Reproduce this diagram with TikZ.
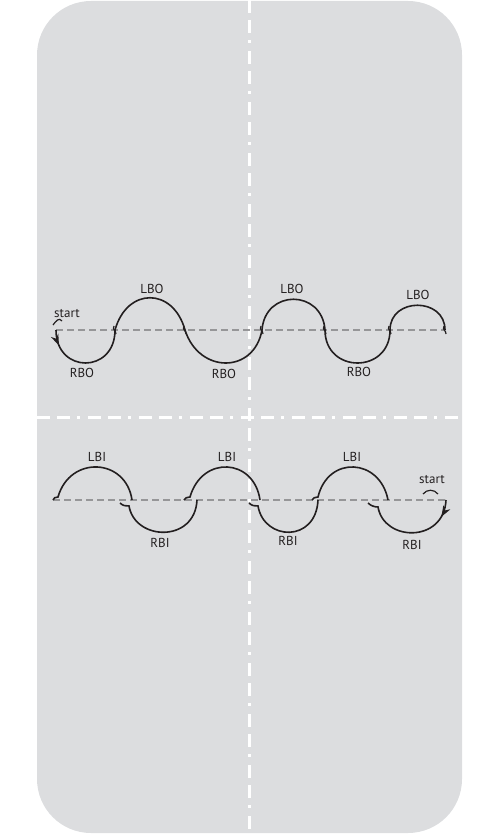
\documentclass[tikz,border=0pt]{standalone}
\usepackage{fontspec}
\setmainfont{PT Sans}
\usetikzlibrary{arrows.meta,decorations.markings}
\definecolor{panel}{RGB}{220,221,223}
\definecolor{ink}{RGB}{35,31,32}
\definecolor{axis}{RGB}{150,150,152}

\begin{document}
\begin{tikzpicture}[x=1pt,y=-1pt]
        \tikzstyle{every node}=[font=\fontsize{13}{15}\selectfont, text=ink, inner sep=0pt]
        \tikzstyle{fold}=[white, line width=3pt, dash pattern=on 13pt off 7pt on 13pt off 7pt on 3pt off 8pt]
        \tikzstyle{base}=[axis, line width=1.3pt, dash pattern=on 7pt off 4pt]
        \tikzstyle{wave}=[ink, line width=1.6pt]
        \tikzstyle{tick}=[ink, line width=1.2pt]
        \tikzstyle{startarrow}=[postaction={decorate}, decoration={markings, mark=at position 0.16 with {\arrow[ink]{Stealth[length=11pt,width=8pt]}}}]

        \useasboundingbox (0,0) rectangle (500,834);
        \fill[panel, rounded corners=54pt] (37,1) rectangle (462,833);
        \draw[fold] (249,0) -- (249,834);
        \draw[fold] (37,417) -- (462,417);

        % outer row
        \coordinate (o0) at (56,330);
        \coordinate (o1) at (115,330);
        \coordinate (o2) at (185,330);
        \coordinate (o3) at (262,330);
        \coordinate (o4) at (325,330);
        \coordinate (o5) at (390,330);
        \coordinate (o6) at (445,330);

        \draw[base] (o0) -- (o6);

        \draw[wave, startarrow] (o0) .. controls +(0,44) and +(0,44) .. (o1);
        \draw[wave] (o1) .. controls +(12,-43) and +(-12,-43) .. (o2);
        \draw[wave] (o2) .. controls +(14,44) and +(-8,44) .. (o3);
        \draw[wave] (o3) .. controls +(3,-41) and +(-3,-41) .. (o4);
        \draw[wave] (o4) .. controls +(0,44) and +(0,44) .. (o5);
        \draw[wave] (o5) .. controls +(0,-33) and +(0,-33) .. (o6);

        \draw[tick] (o1) ++(-1,-4) .. controls +(-2,4) and +(0,-4) .. +(2,8);
        \draw[tick] (o2) ++(-1,-4) .. controls +(-2,4) and +(0,-4) .. +(2,8);
        \draw[tick] (o3) ++(-1,-4) .. controls +(-2,4) and +(0,-4) .. +(2,8);
        \draw[tick] (o4) ++(-1,-4) .. controls +(-2,4) and +(0,-4) .. +(2,8);
        \draw[tick] (o5) ++(-1,-4) .. controls +(-2,4) and +(0,-4) .. +(2,8);
        \draw[tick] (o6) ++(-1,-4) .. controls +(-2,4) and +(0,-4) .. +(2,8);
        \draw[tick] (o0) ++(-3,-5) .. controls +(3,-4) and +(-3,-4) .. +(9,-4);

        \node (start1) at (67,314) {start};
        \node (lbo1)   at (152,289) {LBO};
        \node (lbo2)   at (292,289) {LBO};
        \node (lbo3)   at (418,295) {LBO};
        \node (rbo1)   at (82,373)  {RBO};
        \node (rbo2)   at (224,374) {RBO};
        \node (rbo3)   at (359,372) {RBO};

        % inner row
        \coordinate (g1) at (53,500);
        \coordinate (g2) at (184,500);
        \coordinate (g3) at (312,500);
        \coordinate (l1s) at (58,497);
        \coordinate (l1e) at (132,500);
        \coordinate (l2s) at (190,497);
        \coordinate (l2e) at (260,500);
        \coordinate (l3s) at (318,497);
        \coordinate (l3e) at (388,500);
        \coordinate (h1) at (120,503);
        \coordinate (h2) at (249,503);
        \coordinate (h3) at (368,503);
        \coordinate (k1) at (129,506);
        \coordinate (k2) at (258,506);
        \coordinate (k3) at (378,507);
        \coordinate (r1e) at (197,500);
        \coordinate (r2e) at (318,500);
        \coordinate (r3e) at (446,500);

        \draw[base] (g1) -- (r3e);

        \draw[wave] (g1) .. controls +(1,-3) and +(-3,1) .. (l1s) .. controls +(12,-42) and +(-6,-42) .. (l1e);
        \draw[wave] (g2) .. controls +(1,-3) and +(-3,1) .. (l2s) .. controls +(12,-42) and +(-6,-42) .. (l2e);
        \draw[wave] (g3) .. controls +(1,-3) and +(-3,1) .. (l3s) .. controls +(10,-42) and +(-8,-42) .. (l3e);
        \draw[wave] (h1) .. controls +(3,3) and +(-3,0) .. (k1) .. controls +(6,35) and +(-2,43) .. (r1e);
        \draw[wave] (h2) .. controls +(3,3) and +(-3,0) .. (k2) .. controls +(6,35) and +(-2,43) .. (r2e);
        \draw[wave, startarrow] (r3e) .. controls +(-2,43) and +(6,35) .. (k3) .. controls +(-3,0) and +(3,3) .. (h3);

        \draw[tick] (r3e) ++(-23,-6) .. controls +(4,-5) and +(-4,-5) .. +(15,0);

        \node (start2) at (432,480) {start};
        \node (lbi1)   at (97,457)  {LBI};
        \node (lbi2)   at (227,457) {LBI};
        \node (lbi3)   at (352,457) {LBI};
        \node (rbi1)   at (160,543) {RBI};
        \node (rbi2)   at (288,541) {RBI};
        \node (rbi3)   at (412,545) {RBI};

    \end{tikzpicture}
\end{document}
